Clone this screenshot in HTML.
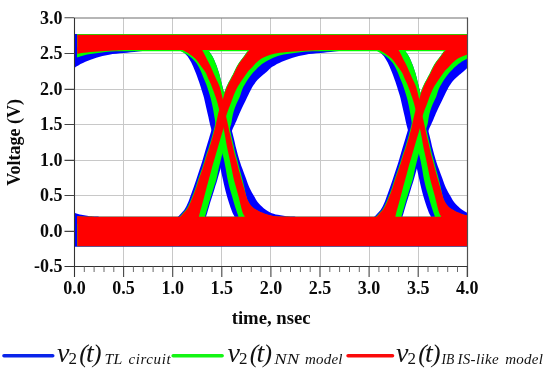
<!DOCTYPE html>
<html lang="en"><head><meta charset="utf-8"><title>Eye diagram</title>
<style>html,body{margin:0;padding:0;background:#fff}body{width:550px;height:376px;overflow:hidden}</style>
</head><body>
<svg width="550" height="376" viewBox="0 0 550 376" style="display:block">
<defs>
<clipPath id="clip-r"><rect x="77.3" y="18" width="389.8" height="249"/></clipPath>
<clipPath id="clip-g"><rect x="77.0" y="18" width="390.1" height="249"/></clipPath>
<clipPath id="clip-b"><rect x="75.0" y="18" width="392.1" height="249"/></clipPath>
</defs>
<rect width="550" height="376" fill="#fff"/>
<path d="M123.6 18.0V266.5M172.7 18.0V266.5M221.8 18.0V266.5M270.9 18.0V266.5M320.0 18.0V266.5M369.1 18.0V266.5M418.2 18.0V266.5M74.5 53.5H467.5M74.5 89.0H467.5M74.5 124.5H467.5M74.5 160.0H467.5M74.5 195.5H467.5M74.5 231.0H467.5" stroke="#c8c8c8" stroke-width="1" fill="none" shape-rendering="crispEdges"/>
<g clip-path="url(#clip-b)" fill="#0000ff"><path d="M60 34.1H480V50.6H60Z"/><path d="M60 216.8H480V246.8H60Z"/><path d="M-20.4 46.0C-19.7 46.7 -17.2 49.1 -15.9 50.2C-14.6 51.3 -13.9 51.4 -12.7 52.4C-11.5 53.4 -10.2 54.5 -8.9 56.2C-7.6 57.9 -6.4 60.1 -5.1 62.6C-3.8 65.2 -2.5 68.3 -1.2 71.5C0.1 74.7 1.6 78.9 2.6 81.8C3.6 84.7 4.1 86.3 4.9 89.0C5.8 91.7 6.9 95.0 7.7 98.2C8.5 101.4 9.2 104.9 9.9 108.0C10.6 111.1 11.4 114.3 12.0 117.0C12.6 119.7 13.0 121.8 13.5 124.0C14.0 126.2 14.4 127.3 15.1 130.0C15.8 132.7 16.8 136.7 17.6 140.0C18.4 143.3 19.2 146.7 20.0 150.0C20.8 153.3 21.5 156.9 22.2 160.0C22.9 163.1 23.4 165.1 24.1 168.4C24.8 171.7 25.9 176.7 26.6 180.0C27.3 183.3 27.8 185.3 28.4 188.0C29.1 190.7 29.7 193.2 30.5 196.0C31.3 198.8 32.3 202.2 33.3 205.0C34.2 207.8 35.4 211.0 36.2 213.0C37.0 215.0 37.7 215.2 38.3 217.0C38.9 218.8 39.4 222.8 39.6 224.0L101.6 224.0C101.3 222.9 101.5 218.5 99.6 217.2C97.7 215.9 93.1 216.6 90.1 216.2C87.1 215.8 84.1 215.4 81.4 214.8C78.7 214.2 75.7 213.2 73.8 212.4C71.9 211.6 71.2 210.9 70.1 210.2C69.0 209.5 68.4 209.3 67.0 208.0C65.6 206.7 63.2 204.6 61.6 202.6C60.0 200.6 59.0 198.4 57.6 196.0C56.2 193.6 54.5 191.0 53.2 188.1C51.9 185.2 50.8 181.7 49.6 178.5C48.4 175.3 47.2 172.0 46.1 169.0C45.0 166.0 44.1 163.8 43.1 160.4C42.0 157.0 40.7 151.9 39.8 148.5C38.9 145.1 38.5 143.0 37.8 140.0C37.1 137.0 36.3 134.0 35.5 130.7C34.7 127.4 34.0 123.8 33.1 120.0C32.2 116.2 31.0 112.6 30.1 108.0C29.2 103.4 28.3 96.4 27.5 92.4C26.7 88.4 26.2 87.2 25.4 84.0C24.6 80.8 23.6 76.3 22.6 73.0C21.6 69.7 20.7 67.0 19.6 64.2C18.5 61.4 17.2 58.5 16.0 56.2C14.8 54.0 13.3 52.2 12.3 50.7C11.3 49.2 10.5 47.6 10.1 47.0Z"/><path d="M57.2 46.5C56.4 47.1 54.0 48.5 52.5 50.0C51.0 51.5 49.7 53.6 48.3 55.5C46.9 57.4 45.2 59.4 43.9 61.3C42.6 63.2 41.4 65.1 40.3 67.1C39.2 69.0 38.4 70.9 37.4 73.0C36.3 75.1 35.0 77.7 34.0 79.5C33.0 81.3 32.4 82.4 31.6 84.0C30.8 85.6 30.0 87.5 29.3 89.2C28.6 90.9 28.0 92.3 27.5 94.0C27.0 95.7 26.7 97.5 26.1 99.2C25.5 101.0 25.4 101.0 24.1 104.5C22.8 108.0 19.6 115.8 18.1 120.0C16.6 124.2 16.0 126.9 15.1 130.0C14.2 133.1 13.5 135.5 12.6 138.5C11.7 141.5 10.8 144.3 9.7 148.0C8.6 151.7 7.2 156.7 6.1 160.4C5.0 164.1 4.0 166.8 3.0 170.0C2.0 173.2 0.9 176.5 -0.1 179.5C-1.1 182.5 -2.0 185.2 -3.0 188.0C-4.0 190.8 -5.1 193.8 -5.9 196.0C-6.7 198.2 -7.2 199.8 -7.9 201.5C-8.6 203.2 -9.2 204.6 -9.9 206.0C-10.6 207.4 -11.4 208.8 -12.2 210.0C-13.0 211.2 -14.1 212.1 -14.9 213.0C-15.7 213.9 -16.4 214.7 -17.0 215.3C-17.6 216.0 -17.6 216.0 -18.7 216.9C-19.8 217.8 -22.6 220.3 -23.4 221.0L8.6 224.0C8.8 222.8 9.2 218.8 9.6 217.0C10.0 215.2 10.2 215.0 10.8 213.0C11.4 211.0 12.2 207.8 13.1 205.0C13.9 202.2 15.0 198.8 15.9 196.0C16.8 193.2 17.6 190.7 18.4 188.0C19.2 185.3 20.0 183.3 20.9 180.0C21.9 176.7 23.1 171.7 24.1 168.4C25.0 165.1 25.7 163.1 26.6 160.0C27.5 156.9 28.6 153.3 29.6 150.0C30.6 146.7 31.6 143.2 32.6 140.0C33.6 136.8 34.6 133.4 35.6 130.7C36.6 128.0 37.7 126.0 38.6 124.0C39.5 122.0 40.0 120.9 40.9 118.8C41.8 116.7 42.9 113.9 44.0 111.5C45.1 109.1 46.3 106.7 47.4 104.3C48.6 101.9 49.7 99.5 50.9 97.0C52.2 94.5 53.8 91.1 54.9 89.0C56.0 86.9 56.5 86.0 57.6 84.5C58.6 83.0 59.9 81.3 61.2 79.8C62.5 78.3 64.1 77.0 65.6 75.7C67.1 74.4 68.3 73.5 70.1 72.0C71.9 70.5 73.7 68.3 76.3 66.6C78.8 64.9 82.1 63.2 85.4 61.7C88.7 60.2 92.3 58.9 96.3 57.7C100.2 56.5 104.5 55.5 109.1 54.7C113.6 53.9 118.8 53.6 123.6 53.1C128.4 52.6 132.8 52.2 138.1 51.6C143.4 51.0 152.7 49.9 155.6 49.5Z"/><path d="M176.0 46.0C176.8 46.7 179.2 49.1 180.5 50.2C181.8 51.3 182.5 51.4 183.7 52.4C184.9 53.4 186.2 54.5 187.5 56.2C188.8 57.9 190.0 60.1 191.3 62.6C192.6 65.2 193.9 68.3 195.2 71.5C196.5 74.7 198.0 78.9 199.0 81.8C200.0 84.7 200.5 86.3 201.3 89.0C202.2 91.7 203.3 95.0 204.1 98.2C204.9 101.4 205.6 104.9 206.3 108.0C207.0 111.1 207.8 114.3 208.4 117.0C209.0 119.7 209.4 121.8 209.9 124.0C210.4 126.2 210.8 127.3 211.5 130.0C212.2 132.7 213.2 136.7 214.0 140.0C214.8 143.3 215.6 146.7 216.4 150.0C217.2 153.3 217.9 156.9 218.6 160.0C219.3 163.1 219.8 165.1 220.5 168.4C221.2 171.7 222.3 176.7 223.0 180.0C223.7 183.3 224.2 185.3 224.8 188.0C225.5 190.7 226.1 193.2 226.9 196.0C227.7 198.8 228.8 202.2 229.7 205.0C230.6 207.8 231.8 211.0 232.6 213.0C233.4 215.0 234.1 215.2 234.7 217.0C235.3 218.8 235.8 222.8 236.0 224.0L298.0 224.0C297.7 222.9 297.9 218.5 296.0 217.2C294.1 215.9 289.5 216.6 286.5 216.2C283.5 215.8 280.5 215.4 277.8 214.8C275.1 214.2 272.1 213.2 270.2 212.4C268.3 211.6 267.6 210.9 266.5 210.2C265.4 209.5 264.8 209.3 263.4 208.0C262.0 206.7 259.6 204.6 258.0 202.6C256.4 200.6 255.4 198.4 254.0 196.0C252.6 193.6 250.9 191.0 249.6 188.1C248.3 185.2 247.2 181.7 246.0 178.5C244.8 175.3 243.6 172.0 242.5 169.0C241.4 166.0 240.6 163.8 239.5 160.4C238.4 157.0 237.1 151.9 236.2 148.5C235.3 145.1 234.9 143.0 234.2 140.0C233.5 137.0 232.7 134.0 231.9 130.7C231.1 127.4 230.4 123.8 229.5 120.0C228.6 116.2 227.4 112.6 226.5 108.0C225.6 103.4 224.7 96.4 223.9 92.4C223.1 88.4 222.6 87.2 221.8 84.0C221.0 80.8 220.0 76.3 219.0 73.0C218.0 69.7 217.1 67.0 216.0 64.2C214.9 61.4 213.6 58.5 212.4 56.2C211.2 54.0 209.7 52.2 208.7 50.7C207.7 49.2 206.9 47.6 206.5 47.0Z"/><path d="M253.6 46.5C252.8 47.1 250.4 48.5 248.9 50.0C247.4 51.5 246.1 53.6 244.7 55.5C243.3 57.4 241.6 59.4 240.3 61.3C239.0 63.2 237.8 65.1 236.7 67.1C235.6 69.0 234.8 70.9 233.8 73.0C232.8 75.1 231.4 77.7 230.4 79.5C229.4 81.3 228.8 82.4 228.0 84.0C227.2 85.6 226.4 87.5 225.7 89.2C225.0 90.9 224.4 92.3 223.9 94.0C223.4 95.7 223.1 97.5 222.5 99.2C221.9 101.0 221.8 101.0 220.5 104.5C219.2 108.0 216.0 115.8 214.5 120.0C213.0 124.2 212.4 126.9 211.5 130.0C210.6 133.1 209.9 135.5 209.0 138.5C208.1 141.5 207.2 144.3 206.1 148.0C205.0 151.7 203.6 156.7 202.5 160.4C201.4 164.1 200.4 166.8 199.4 170.0C198.4 173.2 197.3 176.5 196.3 179.5C195.3 182.5 194.4 185.2 193.4 188.0C192.4 190.8 191.3 193.8 190.5 196.0C189.7 198.2 189.2 199.8 188.5 201.5C187.8 203.2 187.2 204.6 186.5 206.0C185.8 207.4 185.0 208.8 184.2 210.0C183.4 211.2 182.3 212.1 181.5 213.0C180.7 213.9 180.0 214.7 179.4 215.3C178.8 216.0 178.8 216.0 177.7 216.9C176.6 217.8 173.8 220.3 173.0 221.0L205.0 224.0C205.2 222.8 205.6 218.8 206.0 217.0C206.4 215.2 206.6 215.0 207.2 213.0C207.8 211.0 208.7 207.8 209.5 205.0C210.3 202.2 211.4 198.8 212.3 196.0C213.2 193.2 214.0 190.7 214.8 188.0C215.6 185.3 216.4 183.3 217.3 180.0C218.2 176.7 219.6 171.7 220.5 168.4C221.4 165.1 222.1 163.1 223.0 160.0C223.9 156.9 225.0 153.3 226.0 150.0C227.0 146.7 228.0 143.2 229.0 140.0C230.0 136.8 231.0 133.4 232.0 130.7C233.0 128.0 234.1 126.0 235.0 124.0C235.9 122.0 236.4 120.9 237.3 118.8C238.2 116.7 239.3 113.9 240.4 111.5C241.5 109.1 242.7 106.7 243.8 104.3C245.0 101.9 246.1 99.5 247.3 97.0C248.6 94.5 250.2 91.1 251.3 89.0C252.4 86.9 252.9 86.0 254.0 84.5C255.1 83.0 256.3 81.3 257.6 79.8C258.9 78.3 260.5 77.0 262.0 75.7C263.5 74.4 264.7 73.5 266.5 72.0C268.3 70.5 270.1 68.3 272.7 66.6C275.2 64.9 278.5 63.2 281.8 61.7C285.1 60.2 288.8 58.9 292.7 57.7C296.6 56.5 300.9 55.5 305.5 54.7C310.1 53.9 315.2 53.6 320.0 53.1C324.8 52.6 329.2 52.2 334.5 51.6C339.8 51.0 349.1 49.9 352.0 49.5Z"/><path d="M372.4 46.0C373.1 46.7 375.6 49.1 376.9 50.2C378.2 51.3 378.9 51.4 380.1 52.4C381.3 53.4 382.6 54.5 383.9 56.2C385.2 57.9 386.4 60.1 387.7 62.6C389.0 65.2 390.3 68.3 391.6 71.5C392.9 74.7 394.4 78.9 395.4 81.8C396.4 84.7 396.9 86.3 397.7 89.0C398.6 91.7 399.7 95.0 400.5 98.2C401.3 101.4 402.0 104.9 402.7 108.0C403.4 111.1 404.2 114.3 404.8 117.0C405.4 119.7 405.8 121.8 406.3 124.0C406.8 126.2 407.2 127.3 407.9 130.0C408.6 132.7 409.6 136.7 410.4 140.0C411.2 143.3 412.0 146.7 412.8 150.0C413.6 153.3 414.3 156.9 415.0 160.0C415.7 163.1 416.2 165.1 416.9 168.4C417.6 171.7 418.7 176.7 419.4 180.0C420.1 183.3 420.6 185.3 421.2 188.0C421.9 190.7 422.5 193.2 423.3 196.0C424.1 198.8 425.2 202.2 426.1 205.0C427.1 207.8 428.2 211.0 429.0 213.0C429.8 215.0 430.5 215.2 431.1 217.0C431.7 218.8 432.2 222.8 432.4 224.0L494.4 224.0C494.1 222.9 494.3 218.5 492.4 217.2C490.5 215.9 485.9 216.6 482.9 216.2C479.9 215.8 476.9 215.4 474.2 214.8C471.5 214.2 468.5 213.2 466.6 212.4C464.7 211.6 464.0 210.9 462.9 210.2C461.8 209.5 461.2 209.3 459.8 208.0C458.4 206.7 456.0 204.6 454.4 202.6C452.8 200.6 451.8 198.4 450.4 196.0C449.0 193.6 447.3 191.0 446.0 188.1C444.7 185.2 443.6 181.7 442.4 178.5C441.2 175.3 440.0 172.0 438.9 169.0C437.8 166.0 436.9 163.8 435.9 160.4C434.8 157.0 433.5 151.9 432.6 148.5C431.7 145.1 431.3 143.0 430.6 140.0C429.9 137.0 429.1 134.0 428.3 130.7C427.5 127.4 426.8 123.8 425.9 120.0C425.0 116.2 423.8 112.6 422.9 108.0C422.0 103.4 421.1 96.4 420.3 92.4C419.5 88.4 419.0 87.2 418.2 84.0C417.4 80.8 416.4 76.3 415.4 73.0C414.4 69.7 413.5 67.0 412.4 64.2C411.3 61.4 410.0 58.5 408.8 56.2C407.6 54.0 406.1 52.2 405.1 50.7C404.1 49.2 403.3 47.6 402.9 47.0Z"/><path d="M450.0 46.5C449.2 47.1 446.8 48.5 445.3 50.0C443.8 51.5 442.5 53.6 441.1 55.5C439.7 57.4 438.0 59.4 436.7 61.3C435.4 63.2 434.2 65.1 433.1 67.1C432.0 69.0 431.2 70.9 430.2 73.0C429.1 75.1 427.8 77.7 426.8 79.5C425.8 81.3 425.2 82.4 424.4 84.0C423.6 85.6 422.8 87.5 422.1 89.2C421.4 90.9 420.8 92.3 420.3 94.0C419.8 95.7 419.5 97.5 418.9 99.2C418.3 101.0 418.2 101.0 416.9 104.5C415.6 108.0 412.4 115.8 410.9 120.0C409.4 124.2 408.8 126.9 407.9 130.0C407.0 133.1 406.3 135.5 405.4 138.5C404.5 141.5 403.6 144.3 402.5 148.0C401.4 151.7 400.0 156.7 398.9 160.4C397.8 164.1 396.8 166.8 395.8 170.0C394.8 173.2 393.7 176.5 392.7 179.5C391.7 182.5 390.8 185.2 389.8 188.0C388.8 190.8 387.7 193.8 386.9 196.0C386.1 198.2 385.6 199.8 384.9 201.5C384.2 203.2 383.6 204.6 382.9 206.0C382.2 207.4 381.4 208.8 380.6 210.0C379.8 211.2 378.7 212.1 377.9 213.0C377.1 213.9 376.4 214.7 375.8 215.3C375.2 216.0 375.2 216.0 374.1 216.9C373.0 217.8 370.2 220.3 369.4 221.0L401.4 224.0C401.6 222.8 402.0 218.8 402.4 217.0C402.8 215.2 403.0 215.0 403.6 213.0C404.2 211.0 405.0 207.8 405.9 205.0C406.8 202.2 407.8 198.8 408.7 196.0C409.6 193.2 410.4 190.7 411.2 188.0C412.0 185.3 412.8 183.3 413.7 180.0C414.7 176.7 415.9 171.7 416.9 168.4C417.8 165.1 418.5 163.1 419.4 160.0C420.3 156.9 421.4 153.3 422.4 150.0C423.4 146.7 424.4 143.2 425.4 140.0C426.4 136.8 427.4 133.4 428.4 130.7C429.4 128.0 430.5 126.0 431.4 124.0C432.3 122.0 432.8 120.9 433.7 118.8C434.6 116.7 435.7 113.9 436.8 111.5C437.9 109.1 439.1 106.7 440.2 104.3C441.4 101.9 442.5 99.5 443.7 97.0C445.0 94.5 446.6 91.1 447.7 89.0C448.8 86.9 449.3 86.0 450.4 84.5C451.4 83.0 452.7 81.3 454.0 79.8C455.3 78.3 456.9 77.0 458.4 75.7C459.9 74.4 461.1 73.5 462.9 72.0C464.7 70.5 466.6 68.3 469.1 66.6C471.7 64.9 474.9 63.2 478.2 61.7C481.5 60.2 485.2 58.9 489.1 57.7C493.1 56.5 497.3 55.5 501.9 54.7C506.4 53.9 511.6 53.6 516.4 53.1C521.2 52.6 525.6 52.2 530.9 51.6C536.2 51.0 545.5 49.9 548.4 49.5Z"/></g>
<g clip-path="url(#clip-g)" fill="#00ff00"><path d="M60 33.9H480V51.2H60Z"/><path d="M60 216.8H480V246.3H60Z"/><path d="M-20.4 49.5C-19.7 49.7 -17.7 50.2 -16.4 50.8C-15.1 51.3 -14.1 52.1 -12.8 52.8C-11.5 53.5 -10.2 54.2 -8.8 55.1C-7.4 56.0 -5.7 57.1 -4.2 58.4C-2.7 59.7 -1.2 61.3 0.0 62.9C1.2 64.5 2.0 66.2 2.9 67.9C3.8 69.6 4.4 71.2 5.2 73.0C6.0 74.8 6.8 77.2 7.6 79.0C8.3 80.8 9.0 82.3 9.7 84.0C10.3 85.7 10.8 87.0 11.5 89.2C12.2 91.4 13.2 94.5 13.9 97.0C14.6 99.5 15.1 101.7 15.6 104.0C16.1 106.3 16.6 108.7 17.0 111.0C17.4 113.3 17.8 115.8 18.2 118.0C18.6 120.2 18.7 121.3 19.2 124.0C19.7 126.7 20.5 130.7 21.2 134.0C21.9 137.3 22.6 140.7 23.4 144.0C24.2 147.3 25.3 151.1 26.0 153.8C26.7 156.5 27.1 157.6 27.6 160.0C28.1 162.4 28.6 164.8 29.2 168.0C29.8 171.2 30.5 176.2 31.2 179.5C31.9 182.8 32.5 185.2 33.2 188.0C33.9 190.8 34.8 193.2 35.6 196.0C36.4 198.8 37.3 202.2 38.2 205.0C39.1 207.8 40.1 211.0 40.8 213.0C41.5 215.0 41.7 215.2 42.2 217.0C42.7 218.8 43.4 222.8 43.6 224.0L97.6 224.0C97.3 222.9 97.5 218.6 95.6 217.4C93.7 216.2 89.2 217.2 86.1 217.0C83.0 216.8 79.9 216.8 77.1 216.3C74.3 215.9 71.1 214.9 69.2 214.3C67.3 213.7 66.8 213.4 65.6 212.9C64.4 212.4 63.6 212.1 62.0 211.2C60.4 210.3 57.7 209.1 56.0 207.6C54.3 206.1 53.0 203.9 52.0 202.0C51.0 200.1 50.4 198.3 49.8 196.0C49.1 193.7 48.7 190.8 48.1 188.1C47.5 185.4 47.0 183.2 46.2 180.0C45.4 176.8 44.1 172.3 43.2 169.0C42.3 165.7 41.6 162.5 40.9 160.0C40.2 157.5 39.9 156.7 39.2 154.0C38.5 151.3 37.7 147.3 36.9 144.0C36.1 140.7 35.3 137.3 34.6 134.0C33.8 130.7 33.0 127.0 32.4 124.0C31.8 121.0 31.6 119.0 31.2 116.3C30.8 113.6 30.5 110.8 30.1 108.0C29.7 105.2 29.3 101.8 28.9 99.2C28.5 96.6 27.9 94.1 27.5 92.4C27.1 90.7 26.9 90.6 26.6 89.2C26.2 87.8 25.8 85.7 25.4 84.0C25.0 82.3 24.7 80.8 24.2 79.0C23.7 77.2 23.4 75.5 22.6 73.0C21.8 70.5 20.7 67.0 19.6 64.2C18.5 61.4 17.2 58.5 16.0 56.2C14.8 54.0 13.3 52.2 12.3 50.7C11.3 49.2 10.5 47.6 10.1 47.0Z"/><path d="M56.9 46.5C56.1 47.1 53.7 48.5 52.2 50.0C50.7 51.5 49.4 53.6 48.0 55.5C46.6 57.4 44.9 59.4 43.6 61.3C42.3 63.2 41.1 65.1 40.0 67.1C38.9 69.0 38.1 70.9 37.1 73.0C36.0 75.1 34.7 77.7 33.7 79.5C32.7 81.3 32.1 82.4 31.3 84.0C30.5 85.6 29.7 87.5 29.0 89.2C28.3 90.9 27.7 92.3 27.2 94.0C26.7 95.7 26.4 97.5 25.8 99.2C25.2 101.0 24.4 102.8 23.8 104.5C23.2 106.2 22.7 107.6 22.1 109.7C21.5 111.8 20.9 114.6 20.3 117.0C19.8 119.4 19.3 121.7 18.8 124.0C18.3 126.3 17.7 128.5 17.1 131.0C16.4 133.5 15.7 136.2 14.9 139.0C14.1 141.8 13.0 145.5 12.2 148.0C11.4 150.5 10.8 151.9 10.1 154.0C9.4 156.1 8.9 157.7 8.1 160.4C7.2 163.1 6.1 166.8 5.0 170.0C3.9 173.2 2.7 176.5 1.7 179.5C0.7 182.5 -0.0 185.2 -1.0 188.0C-2.0 190.8 -3.1 193.8 -4.0 196.0C-4.9 198.2 -5.5 199.8 -6.2 201.5C-6.9 203.2 -7.5 204.6 -8.3 206.0C-9.0 207.4 -9.8 208.8 -10.7 210.0C-11.6 211.2 -12.7 212.1 -13.5 213.0C-14.3 213.9 -14.9 214.7 -15.5 215.3C-16.1 216.0 -16.0 216.0 -17.0 216.9C-18.0 217.8 -20.8 220.3 -21.5 221.0L7.6 224.0C7.8 222.8 8.2 218.8 8.6 217.0C8.9 215.2 9.1 215.0 9.7 213.0C10.3 211.0 11.2 207.8 12.0 205.0C12.8 202.2 13.8 198.8 14.7 196.0C15.6 193.2 16.3 190.7 17.2 188.0C18.0 185.3 18.9 183.3 19.8 180.0C20.7 176.7 21.6 171.3 22.4 168.0C23.2 164.7 23.8 162.4 24.4 160.0C25.0 157.6 25.2 156.8 26.0 153.8C26.8 150.8 28.0 145.6 29.0 142.0C30.0 138.4 31.2 135.0 32.2 132.0C33.2 129.0 34.2 126.3 34.8 124.0C35.4 121.7 35.4 120.2 35.8 118.0C36.2 115.8 36.7 113.3 37.4 111.0C38.1 108.7 39.0 106.3 40.0 104.0C41.0 101.7 42.3 99.5 43.3 97.0C44.3 94.5 45.1 91.1 46.0 89.0C46.9 86.9 47.5 86.1 48.4 84.5C49.3 82.9 50.3 81.2 51.4 79.5C52.5 77.8 53.8 76.1 55.1 74.5C56.4 72.9 58.0 71.2 59.2 70.0C60.4 68.8 60.8 68.2 62.1 67.0C63.4 65.8 64.8 64.4 67.2 62.9C69.6 61.4 73.0 59.3 76.3 57.9C79.6 56.5 83.0 55.3 87.2 54.4C91.5 53.5 96.9 53.0 101.8 52.4C106.6 51.8 111.3 51.3 116.3 51.0C121.3 50.7 125.4 50.9 131.6 50.6C137.8 50.4 149.9 49.7 153.6 49.5Z"/><path d="M176.0 49.5C176.7 49.7 178.7 50.2 180.0 50.8C181.3 51.3 182.3 52.1 183.6 52.8C184.9 53.5 186.2 54.2 187.6 55.1C189.0 56.0 190.7 57.1 192.2 58.4C193.7 59.7 195.2 61.3 196.4 62.9C197.6 64.5 198.4 66.2 199.3 67.9C200.2 69.6 200.8 71.2 201.6 73.0C202.4 74.8 203.2 77.2 204.0 79.0C204.8 80.8 205.4 82.3 206.1 84.0C206.8 85.7 207.2 87.0 207.9 89.2C208.6 91.4 209.6 94.5 210.3 97.0C211.0 99.5 211.5 101.7 212.0 104.0C212.5 106.3 213.0 108.7 213.4 111.0C213.8 113.3 214.2 115.8 214.6 118.0C215.0 120.2 215.1 121.3 215.6 124.0C216.1 126.7 216.9 130.7 217.6 134.0C218.3 137.3 219.0 140.7 219.8 144.0C220.6 147.3 221.7 151.1 222.4 153.8C223.1 156.5 223.5 157.6 224.0 160.0C224.5 162.4 225.0 164.8 225.6 168.0C226.2 171.2 226.9 176.2 227.6 179.5C228.3 182.8 228.9 185.2 229.6 188.0C230.3 190.8 231.2 193.2 232.0 196.0C232.8 198.8 233.7 202.2 234.6 205.0C235.5 207.8 236.5 211.0 237.2 213.0C237.9 215.0 238.1 215.2 238.6 217.0C239.1 218.8 239.8 222.8 240.0 224.0L294.0 224.0C293.7 222.9 293.9 218.6 292.0 217.4C290.1 216.2 285.6 217.2 282.5 217.0C279.4 216.8 276.3 216.8 273.5 216.3C270.7 215.9 267.5 214.9 265.6 214.3C263.7 213.7 263.2 213.4 262.0 212.9C260.8 212.4 260.0 212.1 258.4 211.2C256.8 210.3 254.1 209.1 252.4 207.6C250.7 206.1 249.4 203.9 248.4 202.0C247.4 200.1 246.8 198.3 246.2 196.0C245.5 193.7 245.1 190.8 244.5 188.1C243.9 185.4 243.4 183.2 242.6 180.0C241.8 176.8 240.5 172.3 239.6 169.0C238.7 165.7 238.0 162.5 237.3 160.0C236.6 157.5 236.3 156.7 235.6 154.0C234.9 151.3 234.1 147.3 233.3 144.0C232.5 140.7 231.8 137.3 231.0 134.0C230.2 130.7 229.4 127.0 228.8 124.0C228.2 121.0 228.0 119.0 227.6 116.3C227.2 113.6 226.9 110.8 226.5 108.0C226.1 105.2 225.7 101.8 225.3 99.2C224.9 96.6 224.3 94.1 223.9 92.4C223.5 90.7 223.3 90.6 223.0 89.2C222.7 87.8 222.2 85.7 221.8 84.0C221.4 82.3 221.1 80.8 220.6 79.0C220.1 77.2 219.8 75.5 219.0 73.0C218.2 70.5 217.1 67.0 216.0 64.2C214.9 61.4 213.6 58.5 212.4 56.2C211.2 54.0 209.7 52.2 208.7 50.7C207.7 49.2 206.9 47.6 206.5 47.0Z"/><path d="M253.3 46.5C252.5 47.1 250.1 48.5 248.6 50.0C247.1 51.5 245.8 53.6 244.4 55.5C243.0 57.4 241.3 59.4 240.0 61.3C238.7 63.2 237.5 65.1 236.4 67.1C235.3 69.0 234.6 70.9 233.5 73.0C232.4 75.1 231.1 77.7 230.1 79.5C229.1 81.3 228.5 82.4 227.7 84.0C226.9 85.6 226.1 87.5 225.4 89.2C224.7 90.9 224.1 92.3 223.6 94.0C223.1 95.7 222.8 97.5 222.2 99.2C221.6 101.0 220.8 102.8 220.2 104.5C219.6 106.2 219.1 107.6 218.5 109.7C217.9 111.8 217.2 114.6 216.7 117.0C216.2 119.4 215.7 121.7 215.2 124.0C214.7 126.3 214.2 128.5 213.5 131.0C212.8 133.5 212.1 136.2 211.3 139.0C210.5 141.8 209.4 145.5 208.6 148.0C207.8 150.5 207.2 151.9 206.5 154.0C205.8 156.1 205.3 157.7 204.5 160.4C203.7 163.1 202.5 166.8 201.4 170.0C200.3 173.2 199.1 176.5 198.1 179.5C197.1 182.5 196.4 185.2 195.4 188.0C194.4 190.8 193.3 193.8 192.4 196.0C191.5 198.2 190.9 199.8 190.2 201.5C189.5 203.2 188.9 204.6 188.1 206.0C187.4 207.4 186.6 208.8 185.7 210.0C184.8 211.2 183.7 212.1 182.9 213.0C182.1 213.9 181.5 214.7 180.9 215.3C180.3 216.0 180.4 216.0 179.4 216.9C178.4 217.8 175.7 220.3 174.9 221.0L204.0 224.0C204.2 222.8 204.7 218.8 205.0 217.0C205.3 215.2 205.5 215.0 206.1 213.0C206.7 211.0 207.6 207.8 208.4 205.0C209.2 202.2 210.2 198.8 211.1 196.0C212.0 193.2 212.8 190.7 213.6 188.0C214.4 185.3 215.3 183.3 216.2 180.0C217.1 176.7 218.0 171.3 218.8 168.0C219.6 164.7 220.2 162.4 220.8 160.0C221.4 157.6 221.6 156.8 222.4 153.8C223.2 150.8 224.4 145.6 225.4 142.0C226.4 138.4 227.6 135.0 228.6 132.0C229.6 129.0 230.6 126.3 231.2 124.0C231.8 121.7 231.8 120.2 232.2 118.0C232.6 115.8 233.1 113.3 233.8 111.0C234.5 108.7 235.4 106.3 236.4 104.0C237.4 101.7 238.7 99.5 239.7 97.0C240.7 94.5 241.6 91.1 242.4 89.0C243.2 86.9 243.9 86.1 244.8 84.5C245.7 82.9 246.7 81.2 247.8 79.5C248.9 77.8 250.2 76.1 251.5 74.5C252.8 72.9 254.4 71.2 255.6 70.0C256.8 68.8 257.2 68.2 258.5 67.0C259.8 65.8 261.2 64.4 263.6 62.9C266.0 61.4 269.4 59.3 272.7 57.9C276.0 56.5 279.4 55.3 283.6 54.4C287.9 53.5 293.4 53.0 298.2 52.4C303.0 51.8 307.7 51.3 312.7 51.0C317.7 50.7 321.8 50.9 328.0 50.6C334.2 50.4 346.3 49.7 350.0 49.5Z"/><path d="M372.4 49.5C373.1 49.7 375.1 50.2 376.4 50.8C377.7 51.3 378.7 52.1 380.0 52.8C381.3 53.5 382.6 54.2 384.0 55.1C385.4 56.0 387.1 57.1 388.6 58.4C390.1 59.7 391.6 61.3 392.8 62.9C394.0 64.5 394.8 66.2 395.7 67.9C396.6 69.6 397.2 71.2 398.0 73.0C398.8 74.8 399.6 77.2 400.4 79.0C401.1 80.8 401.9 82.3 402.5 84.0C403.1 85.7 403.6 87.0 404.3 89.2C405.0 91.4 406.0 94.5 406.7 97.0C407.4 99.5 407.9 101.7 408.4 104.0C408.9 106.3 409.4 108.7 409.8 111.0C410.2 113.3 410.6 115.8 411.0 118.0C411.4 120.2 411.5 121.3 412.0 124.0C412.5 126.7 413.3 130.7 414.0 134.0C414.7 137.3 415.4 140.7 416.2 144.0C417.0 147.3 418.1 151.1 418.8 153.8C419.5 156.5 419.9 157.6 420.4 160.0C420.9 162.4 421.4 164.8 422.0 168.0C422.6 171.2 423.3 176.2 424.0 179.5C424.7 182.8 425.3 185.2 426.0 188.0C426.7 190.8 427.6 193.2 428.4 196.0C429.2 198.8 430.1 202.2 431.0 205.0C431.9 207.8 432.9 211.0 433.6 213.0C434.3 215.0 434.5 215.2 435.0 217.0C435.5 218.8 436.2 222.8 436.4 224.0L490.4 224.0C490.1 222.9 490.3 218.6 488.4 217.4C486.5 216.2 482.0 217.2 478.9 217.0C475.8 216.8 472.7 216.8 469.9 216.3C467.1 215.9 463.9 214.9 462.0 214.3C460.1 213.7 459.6 213.4 458.4 212.9C457.2 212.4 456.4 212.1 454.8 211.2C453.2 210.3 450.5 209.1 448.8 207.6C447.1 206.1 445.8 203.9 444.8 202.0C443.8 200.1 443.2 198.3 442.6 196.0C442.0 193.7 441.5 190.8 440.9 188.1C440.3 185.4 439.8 183.2 439.0 180.0C438.2 176.8 436.9 172.3 436.0 169.0C435.1 165.7 434.4 162.5 433.7 160.0C433.0 157.5 432.7 156.7 432.0 154.0C431.3 151.3 430.5 147.3 429.7 144.0C428.9 140.7 428.1 137.3 427.4 134.0C426.6 130.7 425.8 127.0 425.2 124.0C424.6 121.0 424.4 119.0 424.0 116.3C423.6 113.6 423.3 110.8 422.9 108.0C422.5 105.2 422.1 101.8 421.7 99.2C421.3 96.6 420.7 94.1 420.3 92.4C419.9 90.7 419.8 90.6 419.4 89.2C419.0 87.8 418.6 85.7 418.2 84.0C417.8 82.3 417.5 80.8 417.0 79.0C416.5 77.2 416.2 75.5 415.4 73.0C414.6 70.5 413.5 67.0 412.4 64.2C411.3 61.4 410.0 58.5 408.8 56.2C407.6 54.0 406.1 52.2 405.1 50.7C404.1 49.2 403.3 47.6 402.9 47.0Z"/><path d="M449.7 46.5C448.9 47.1 446.5 48.5 445.0 50.0C443.5 51.5 442.2 53.6 440.8 55.5C439.4 57.4 437.7 59.4 436.4 61.3C435.1 63.2 433.9 65.1 432.8 67.1C431.7 69.0 430.9 70.9 429.9 73.0C428.8 75.1 427.5 77.7 426.5 79.5C425.5 81.3 424.9 82.4 424.1 84.0C423.3 85.6 422.5 87.5 421.8 89.2C421.1 90.9 420.5 92.3 420.0 94.0C419.5 95.7 419.2 97.5 418.6 99.2C418.0 101.0 417.2 102.8 416.6 104.5C416.0 106.2 415.5 107.6 414.9 109.7C414.3 111.8 413.7 114.6 413.1 117.0C412.6 119.4 412.1 121.7 411.6 124.0C411.1 126.3 410.5 128.5 409.9 131.0C409.2 133.5 408.5 136.2 407.7 139.0C406.9 141.8 405.8 145.5 405.0 148.0C404.2 150.5 403.6 151.9 402.9 154.0C402.2 156.1 401.8 157.7 400.9 160.4C400.0 163.1 398.9 166.8 397.8 170.0C396.7 173.2 395.5 176.5 394.5 179.5C393.5 182.5 392.8 185.2 391.8 188.0C390.9 190.8 389.7 193.8 388.8 196.0C387.9 198.2 387.3 199.8 386.6 201.5C385.9 203.2 385.2 204.6 384.5 206.0C383.8 207.4 383.0 208.8 382.1 210.0C381.2 211.2 380.1 212.1 379.3 213.0C378.5 213.9 377.9 214.7 377.3 215.3C376.7 216.0 376.8 216.0 375.8 216.9C374.8 217.8 372.1 220.3 371.3 221.0L400.4 224.0C400.6 222.8 401.0 218.8 401.4 217.0C401.8 215.2 401.9 215.0 402.5 213.0C403.1 211.0 404.0 207.8 404.8 205.0C405.6 202.2 406.6 198.8 407.5 196.0C408.4 193.2 409.1 190.7 410.0 188.0C410.9 185.3 411.7 183.3 412.6 180.0C413.5 176.7 414.4 171.3 415.2 168.0C416.0 164.7 416.6 162.4 417.2 160.0C417.8 157.6 418.0 156.8 418.8 153.8C419.6 150.8 420.8 145.6 421.8 142.0C422.8 138.4 424.0 135.0 425.0 132.0C426.0 129.0 427.0 126.3 427.6 124.0C428.2 121.7 428.2 120.2 428.6 118.0C429.0 115.8 429.5 113.3 430.2 111.0C430.9 108.7 431.8 106.3 432.8 104.0C433.8 101.7 435.1 99.5 436.1 97.0C437.1 94.5 437.9 91.1 438.8 89.0C439.7 86.9 440.3 86.1 441.2 84.5C442.1 82.9 443.1 81.2 444.2 79.5C445.3 77.8 446.6 76.1 447.9 74.5C449.2 72.9 450.8 71.2 452.0 70.0C453.2 68.8 453.6 68.2 454.9 67.0C456.2 65.8 457.6 64.4 460.0 62.9C462.4 61.4 465.8 59.3 469.1 57.9C472.4 56.5 475.8 55.3 480.0 54.4C484.2 53.5 489.8 53.0 494.6 52.4C499.5 51.8 504.1 51.3 509.1 51.0C514.1 50.7 518.2 50.9 524.4 50.6C530.6 50.4 542.7 49.7 546.4 49.5Z"/></g>
<g clip-path="url(#clip-r)" fill="#ff0000"><path d="M60 34.8H480V50.0H60Z"/><path d="M60 216.8H480V246.3H60Z"/><path d="M-18.4 48.5C-17.9 48.6 -16.4 48.9 -15.4 49.3C-14.4 49.7 -13.8 50.0 -12.4 50.8C-11.0 51.6 -8.8 52.8 -7.0 54.0C-5.2 55.2 -3.3 56.6 -1.8 58.0C-0.3 59.4 0.7 60.7 2.0 62.4C3.3 64.1 4.8 66.2 6.0 68.0C7.2 69.8 8.5 71.2 9.5 73.0C10.5 74.8 11.2 77.2 12.0 79.0C12.8 80.8 13.7 82.3 14.4 84.0C15.1 85.7 15.6 87.0 16.4 89.2C17.2 91.4 18.4 94.6 19.2 97.0C20.0 99.4 20.6 101.4 21.2 103.5C21.8 105.6 22.1 107.1 22.8 109.7C23.4 112.3 24.4 115.9 25.1 119.0C25.8 122.1 26.4 125.0 27.1 128.2C27.7 131.4 28.4 134.7 29.0 138.0C29.6 141.3 30.1 144.7 30.8 148.0C31.5 151.3 32.3 154.7 33.0 158.0C33.7 161.3 34.3 164.3 35.1 168.0C35.9 171.7 36.8 176.7 37.6 180.0C38.4 183.3 39.1 185.3 39.8 188.0C40.5 190.7 41.3 193.2 42.0 196.0C42.7 198.8 43.5 202.2 44.2 205.0C44.9 207.8 45.7 211.0 46.4 213.0C47.1 215.0 48.0 215.2 48.5 217.0C49.0 218.8 49.4 222.8 49.6 224.0L97.6 224.0C97.3 222.9 97.5 218.5 95.6 217.3C93.7 216.1 89.2 217.0 86.1 216.8C83.0 216.6 79.9 216.5 77.1 216.0C74.3 215.5 71.3 214.6 69.4 214.0C67.5 213.4 67.0 213.1 65.8 212.6C64.6 212.1 63.8 211.8 62.2 210.9C60.6 210.0 57.9 208.8 56.3 207.3C54.6 205.8 53.4 203.9 52.3 202.0C51.2 200.1 50.7 198.3 49.9 196.0C49.1 193.7 48.4 190.8 47.6 188.1C46.8 185.4 46.2 183.2 45.3 180.0C44.4 176.8 43.1 172.3 42.2 169.0C41.3 165.7 40.6 162.5 39.9 160.0C39.2 157.5 38.9 156.7 38.2 154.0C37.5 151.3 36.7 147.3 35.9 144.0C35.1 140.7 34.3 137.3 33.6 134.0C32.8 130.7 32.1 127.0 31.4 124.0C30.8 121.0 30.2 119.0 29.7 116.3C29.1 113.6 28.6 110.8 28.1 108.0C27.5 105.2 27.1 102.3 26.4 99.2C25.7 96.1 24.7 91.7 24.0 89.2C23.3 86.7 22.9 85.7 22.2 84.0C21.5 82.3 20.6 80.8 19.8 79.0C18.9 77.2 18.0 75.0 17.1 73.0C16.2 71.0 15.4 69.0 14.5 67.1C13.6 65.1 12.6 63.2 11.6 61.3C10.6 59.4 9.7 57.4 8.7 55.5C7.7 53.6 6.6 51.4 5.8 50.0C4.9 48.6 4.0 47.5 3.6 47.0Z"/><path d="M57.6 46.5C56.8 47.1 54.4 48.5 52.9 50.0C51.4 51.5 50.1 53.6 48.7 55.5C47.3 57.4 45.6 59.4 44.3 61.3C43.0 63.2 41.8 65.1 40.7 67.1C39.6 69.0 38.8 70.9 37.8 73.0C36.7 75.1 35.4 77.7 34.4 79.5C33.4 81.3 32.8 82.4 32.0 84.0C31.2 85.6 30.4 87.5 29.7 89.2C29.0 90.9 28.4 92.3 27.9 94.0C27.4 95.7 27.1 97.5 26.5 99.2C25.9 101.0 25.1 102.8 24.5 104.5C23.9 106.2 23.4 107.6 22.8 109.7C22.2 111.8 21.5 114.6 21.0 117.0C20.5 119.4 20.0 121.7 19.5 124.0C19.0 126.3 18.4 128.5 17.8 131.0C17.1 133.5 16.4 136.2 15.6 139.0C14.8 141.8 13.7 145.5 12.9 148.0C12.1 150.5 11.5 151.9 10.8 154.0C10.1 156.1 9.6 157.7 8.8 160.4C7.9 163.1 6.8 166.8 5.7 170.0C4.6 173.2 3.4 176.5 2.4 179.5C1.4 182.5 0.6 185.2 -0.3 188.0C-1.3 190.8 -2.4 193.8 -3.3 196.0C-4.2 198.2 -4.8 199.8 -5.5 201.5C-6.2 203.2 -6.8 204.6 -7.6 206.0C-8.3 207.4 -9.1 208.8 -10.0 210.0C-10.9 211.2 -12.0 212.1 -12.8 213.0C-13.6 213.9 -14.2 214.7 -14.8 215.3C-15.4 216.0 -15.3 216.0 -16.3 216.9C-17.3 217.8 -20.1 220.3 -20.8 221.0L1.1 224.0C1.3 222.8 2.1 218.8 2.5 217.0C2.9 215.2 2.9 215.0 3.4 213.0C3.9 211.0 4.8 207.8 5.6 205.0C6.4 202.2 7.2 198.8 8.0 196.0C8.8 193.2 9.4 190.7 10.1 188.0C10.8 185.3 11.4 183.3 12.3 180.0C13.2 176.7 14.5 171.7 15.5 168.0C16.5 164.3 17.4 161.3 18.4 158.0C19.4 154.7 20.3 151.3 21.3 148.0C22.3 144.7 23.2 141.3 24.2 138.0C25.2 134.7 26.2 131.8 27.1 128.2C28.0 124.6 28.7 119.9 29.7 116.3C30.7 112.7 32.0 109.7 33.2 106.5C34.4 103.3 35.5 99.9 36.7 97.0C37.8 94.1 39.1 91.1 40.1 89.0C41.1 86.9 41.7 86.1 42.7 84.5C43.7 82.9 44.9 81.2 46.0 79.5C47.1 77.8 48.4 76.0 49.5 74.5C50.6 73.0 51.5 71.5 52.6 70.3C53.7 69.0 54.8 68.3 56.0 67.0C57.2 65.7 58.5 64.1 60.1 62.6C61.7 61.1 63.5 59.4 65.6 58.2C67.7 57.0 69.7 56.1 72.7 55.2C75.7 54.3 79.4 53.4 83.6 52.8C87.8 52.2 93.1 51.9 98.1 51.5C103.1 51.1 107.7 50.9 113.6 50.6C119.5 50.3 130.3 49.7 133.6 49.5Z"/><path d="M178.0 48.5C178.5 48.6 180.0 48.9 181.0 49.3C182.0 49.7 182.6 50.0 184.0 50.8C185.4 51.6 187.6 52.8 189.4 54.0C191.2 55.2 193.1 56.6 194.6 58.0C196.1 59.4 197.1 60.7 198.4 62.4C199.7 64.1 201.2 66.2 202.4 68.0C203.7 69.8 204.9 71.2 205.9 73.0C206.9 74.8 207.6 77.2 208.4 79.0C209.2 80.8 210.1 82.3 210.8 84.0C211.5 85.7 212.0 87.0 212.8 89.2C213.6 91.4 214.8 94.6 215.6 97.0C216.4 99.4 217.0 101.4 217.6 103.5C218.2 105.6 218.5 107.1 219.2 109.7C219.8 112.3 220.8 115.9 221.5 119.0C222.2 122.1 222.8 125.0 223.5 128.2C224.2 131.4 224.8 134.7 225.4 138.0C226.0 141.3 226.5 144.7 227.2 148.0C227.9 151.3 228.7 154.7 229.4 158.0C230.1 161.3 230.7 164.3 231.5 168.0C232.3 171.7 233.2 176.7 234.0 180.0C234.8 183.3 235.5 185.3 236.2 188.0C236.9 190.7 237.7 193.2 238.4 196.0C239.1 198.8 239.9 202.2 240.6 205.0C241.3 207.8 242.1 211.0 242.8 213.0C243.5 215.0 244.4 215.2 244.9 217.0C245.4 218.8 245.8 222.8 246.0 224.0L294.0 224.0C293.7 222.9 293.9 218.5 292.0 217.3C290.1 216.1 285.6 217.0 282.5 216.8C279.4 216.6 276.3 216.5 273.5 216.0C270.7 215.5 267.7 214.6 265.8 214.0C263.9 213.4 263.4 213.1 262.2 212.6C261.0 212.1 260.2 211.8 258.6 210.9C257.0 210.0 254.3 208.8 252.7 207.3C251.0 205.8 249.8 203.9 248.7 202.0C247.6 200.1 247.1 198.3 246.3 196.0C245.5 193.7 244.8 190.8 244.0 188.1C243.2 185.4 242.6 183.2 241.7 180.0C240.8 176.8 239.5 172.3 238.6 169.0C237.7 165.7 237.0 162.5 236.3 160.0C235.6 157.5 235.3 156.7 234.6 154.0C233.9 151.3 233.1 147.3 232.3 144.0C231.5 140.7 230.8 137.3 230.0 134.0C229.2 130.7 228.5 127.0 227.8 124.0C227.2 121.0 226.7 119.0 226.1 116.3C225.5 113.6 225.1 110.8 224.5 108.0C223.9 105.2 223.5 102.3 222.8 99.2C222.1 96.1 221.1 91.7 220.4 89.2C219.7 86.7 219.3 85.7 218.6 84.0C217.9 82.3 217.0 80.8 216.2 79.0C215.3 77.2 214.4 75.0 213.5 73.0C212.6 71.0 211.8 69.0 210.9 67.1C210.0 65.1 209.0 63.2 208.0 61.3C207.0 59.4 206.1 57.4 205.1 55.5C204.1 53.6 203.0 51.4 202.2 50.0C201.3 48.6 200.4 47.5 200.0 47.0Z"/><path d="M254.0 46.5C253.2 47.1 250.8 48.5 249.3 50.0C247.8 51.5 246.5 53.6 245.1 55.5C243.7 57.4 242.0 59.4 240.7 61.3C239.4 63.2 238.2 65.1 237.1 67.1C236.0 69.0 235.2 70.9 234.2 73.0C233.1 75.1 231.8 77.7 230.8 79.5C229.8 81.3 229.2 82.4 228.4 84.0C227.6 85.6 226.8 87.5 226.1 89.2C225.4 90.9 224.8 92.3 224.3 94.0C223.8 95.7 223.5 97.5 222.9 99.2C222.3 101.0 221.5 102.8 220.9 104.5C220.3 106.2 219.8 107.6 219.2 109.7C218.6 111.8 217.9 114.6 217.4 117.0C216.9 119.4 216.4 121.7 215.9 124.0C215.4 126.3 214.8 128.5 214.2 131.0C213.5 133.5 212.8 136.2 212.0 139.0C211.2 141.8 210.1 145.5 209.3 148.0C208.5 150.5 207.9 151.9 207.2 154.0C206.5 156.1 206.0 157.7 205.2 160.4C204.3 163.1 203.2 166.8 202.1 170.0C201.0 173.2 199.8 176.5 198.8 179.5C197.8 182.5 197.1 185.2 196.1 188.0C195.1 190.8 194.0 193.8 193.1 196.0C192.2 198.2 191.6 199.8 190.9 201.5C190.2 203.2 189.6 204.6 188.8 206.0C188.1 207.4 187.3 208.8 186.4 210.0C185.5 211.2 184.4 212.1 183.6 213.0C182.8 213.9 182.2 214.7 181.6 215.3C181.0 216.0 181.1 216.0 180.1 216.9C179.1 217.8 176.3 220.3 175.6 221.0L197.5 224.0C197.7 222.8 198.5 218.8 198.9 217.0C199.3 215.2 199.3 215.0 199.8 213.0C200.3 211.0 201.2 207.8 202.0 205.0C202.8 202.2 203.7 198.8 204.4 196.0C205.2 193.2 205.8 190.7 206.5 188.0C207.2 185.3 207.8 183.3 208.7 180.0C209.6 176.7 210.9 171.7 211.9 168.0C212.9 164.3 213.8 161.3 214.8 158.0C215.8 154.7 216.7 151.3 217.7 148.0C218.7 144.7 219.6 141.3 220.6 138.0C221.6 134.7 222.6 131.8 223.5 128.2C224.4 124.6 225.1 119.9 226.1 116.3C227.1 112.7 228.4 109.7 229.6 106.5C230.8 103.3 231.9 99.9 233.1 97.0C234.2 94.1 235.5 91.1 236.5 89.0C237.5 86.9 238.1 86.1 239.1 84.5C240.1 82.9 241.3 81.2 242.4 79.5C243.5 77.8 244.8 76.0 245.9 74.5C247.0 73.0 247.9 71.5 249.0 70.3C250.1 69.0 251.2 68.3 252.4 67.0C253.7 65.7 254.9 64.1 256.5 62.6C258.1 61.1 259.9 59.4 262.0 58.2C264.1 57.0 266.1 56.1 269.1 55.2C272.1 54.3 275.8 53.4 280.0 52.8C284.2 52.2 289.5 51.9 294.5 51.5C299.5 51.1 304.1 50.9 310.0 50.6C315.9 50.3 326.7 49.7 330.0 49.5Z"/><path d="M374.4 48.5C374.9 48.6 376.4 48.9 377.4 49.3C378.4 49.7 379.0 50.0 380.4 50.8C381.8 51.6 384.0 52.8 385.8 54.0C387.6 55.2 389.5 56.6 391.0 58.0C392.5 59.4 393.5 60.7 394.8 62.4C396.1 64.1 397.6 66.2 398.8 68.0C400.1 69.8 401.3 71.2 402.3 73.0C403.3 74.8 404.0 77.2 404.8 79.0C405.6 80.8 406.5 82.3 407.2 84.0C407.9 85.7 408.4 87.0 409.2 89.2C410.0 91.4 411.2 94.6 412.0 97.0C412.8 99.4 413.4 101.4 414.0 103.5C414.6 105.6 415.0 107.1 415.6 109.7C416.2 112.3 417.2 115.9 417.9 119.0C418.6 122.1 419.2 125.0 419.9 128.2C420.5 131.4 421.2 134.7 421.8 138.0C422.4 141.3 422.9 144.7 423.6 148.0C424.3 151.3 425.1 154.7 425.8 158.0C426.5 161.3 427.1 164.3 427.9 168.0C428.7 171.7 429.6 176.7 430.4 180.0C431.2 183.3 431.9 185.3 432.6 188.0C433.3 190.7 434.1 193.2 434.8 196.0C435.5 198.8 436.3 202.2 437.0 205.0C437.7 207.8 438.5 211.0 439.2 213.0C439.9 215.0 440.8 215.2 441.3 217.0C441.8 218.8 442.2 222.8 442.4 224.0L490.4 224.0C490.1 222.9 490.3 218.5 488.4 217.3C486.5 216.1 482.0 217.0 478.9 216.8C475.8 216.6 472.7 216.5 469.9 216.0C467.1 215.5 464.1 214.6 462.2 214.0C460.3 213.4 459.8 213.1 458.6 212.6C457.4 212.1 456.6 211.8 455.0 210.9C453.4 210.0 450.8 208.8 449.1 207.3C447.5 205.8 446.2 203.9 445.1 202.0C444.0 200.1 443.5 198.3 442.7 196.0C441.9 193.7 441.2 190.8 440.4 188.1C439.6 185.4 439.0 183.2 438.1 180.0C437.2 176.8 435.9 172.3 435.0 169.0C434.1 165.7 433.4 162.5 432.7 160.0C432.0 157.5 431.7 156.7 431.0 154.0C430.3 151.3 429.5 147.3 428.7 144.0C427.9 140.7 427.1 137.3 426.4 134.0C425.6 130.7 424.9 127.0 424.2 124.0C423.6 121.0 423.1 119.0 422.5 116.3C421.9 113.6 421.4 110.8 420.9 108.0C420.3 105.2 419.9 102.3 419.2 99.2C418.5 96.1 417.5 91.7 416.8 89.2C416.1 86.7 415.7 85.7 415.0 84.0C414.3 82.3 413.5 80.8 412.6 79.0C411.8 77.2 410.8 75.0 409.9 73.0C409.0 71.0 408.2 69.0 407.3 67.1C406.4 65.1 405.4 63.2 404.4 61.3C403.4 59.4 402.5 57.4 401.5 55.5C400.5 53.6 399.5 51.4 398.6 50.0C397.8 48.6 396.8 47.5 396.4 47.0Z"/><path d="M450.4 46.5C449.6 47.1 447.2 48.5 445.7 50.0C444.2 51.5 442.9 53.6 441.5 55.5C440.1 57.4 438.4 59.4 437.1 61.3C435.8 63.2 434.6 65.1 433.5 67.1C432.4 69.0 431.7 70.9 430.6 73.0C429.6 75.1 428.2 77.7 427.2 79.5C426.2 81.3 425.6 82.4 424.8 84.0C424.0 85.6 423.2 87.5 422.5 89.2C421.8 90.9 421.2 92.3 420.7 94.0C420.2 95.7 419.9 97.5 419.3 99.2C418.7 101.0 417.9 102.8 417.3 104.5C416.7 106.2 416.2 107.6 415.6 109.7C415.0 111.8 414.4 114.6 413.8 117.0C413.2 119.4 412.8 121.7 412.3 124.0C411.8 126.3 411.2 128.5 410.6 131.0C410.0 133.5 409.2 136.2 408.4 139.0C407.6 141.8 406.5 145.5 405.7 148.0C404.9 150.5 404.3 151.9 403.6 154.0C402.9 156.1 402.5 157.7 401.6 160.4C400.8 163.1 399.6 166.8 398.5 170.0C397.4 173.2 396.2 176.5 395.2 179.5C394.2 182.5 393.4 185.2 392.5 188.0C391.6 190.8 390.4 193.8 389.5 196.0C388.6 198.2 388.0 199.8 387.3 201.5C386.6 203.2 386.0 204.6 385.2 206.0C384.5 207.4 383.7 208.8 382.8 210.0C381.9 211.2 380.8 212.1 380.0 213.0C379.2 213.9 378.6 214.7 378.0 215.3C377.4 216.0 377.5 216.0 376.5 216.9C375.5 217.8 372.8 220.3 372.0 221.0L393.9 224.0C394.1 222.8 394.9 218.8 395.3 217.0C395.7 215.2 395.7 215.0 396.2 213.0C396.7 211.0 397.6 207.8 398.4 205.0C399.2 202.2 400.1 198.8 400.8 196.0C401.6 193.2 402.2 190.7 402.9 188.0C403.6 185.3 404.2 183.3 405.1 180.0C406.0 176.7 407.3 171.7 408.3 168.0C409.3 164.3 410.2 161.3 411.2 158.0C412.2 154.7 413.1 151.3 414.1 148.0C415.1 144.7 416.0 141.3 417.0 138.0C418.0 134.7 419.0 131.8 419.9 128.2C420.8 124.6 421.5 119.9 422.5 116.3C423.5 112.7 424.8 109.7 426.0 106.5C427.2 103.3 428.4 99.9 429.5 97.0C430.6 94.1 431.9 91.1 432.9 89.0C433.9 86.9 434.5 86.1 435.5 84.5C436.5 82.9 437.7 81.2 438.8 79.5C439.9 77.8 441.2 76.0 442.3 74.5C443.4 73.0 444.3 71.5 445.4 70.3C446.5 69.0 447.6 68.3 448.8 67.0C450.1 65.7 451.3 64.1 452.9 62.6C454.5 61.1 456.3 59.4 458.4 58.2C460.5 57.0 462.5 56.1 465.5 55.2C468.5 54.3 472.2 53.4 476.4 52.8C480.6 52.2 485.9 51.9 490.9 51.5C495.9 51.1 500.5 50.9 506.4 50.6C512.3 50.3 523.1 49.7 526.4 49.5Z"/></g>
<path d="M74.5 18.0H467.5" stroke="#6e6e6e" stroke-width="1.2" fill="none"/>
<path d="M467.5 17.5V277.0" stroke="#505050" stroke-width="1.2" fill="none"/>
<path d="M74.5 18.0V277.0M64.5 266.5H467.5" stroke="#333" stroke-width="1.1" fill="none"/>
<path d="M64.50 17.80H74.5M64.50 53.50H74.5M64.50 89.35H74.5M64.50 124.50H74.5M64.50 160.35H74.5M64.50 195.50H74.5M64.50 231.35H74.5M123.6 266.5V277.0M172.7 266.5V277.0M221.8 266.5V277.0M270.9 266.5V277.0M320.0 266.5V277.0M369.1 266.5V277.0M418.2 266.5V277.0M467.3 266.5V277.0" stroke="#444" stroke-width="1.1" fill="none"/>
<path d="M84.3 266.5V272.0M94.1 266.5V272.0M104.0 266.5V272.0M113.8 266.5V272.0M133.4 266.5V272.0M143.2 266.5V272.0M153.1 266.5V272.0M162.9 266.5V272.0M182.5 266.5V272.0M192.3 266.5V272.0M202.2 266.5V272.0M212.0 266.5V272.0M231.6 266.5V272.0M241.4 266.5V272.0M251.3 266.5V272.0M261.1 266.5V272.0M280.7 266.5V272.0M290.5 266.5V272.0M300.4 266.5V272.0M310.2 266.5V272.0M329.8 266.5V272.0M339.6 266.5V272.0M349.5 266.5V272.0M359.3 266.5V272.0M378.9 266.5V272.0M388.7 266.5V272.0M398.6 266.5V272.0M408.4 266.5V272.0M428.0 266.5V272.0M437.8 266.5V272.0M447.7 266.5V272.0M457.5 266.5V272.0" stroke="#6a6a6a" stroke-width="1" fill="none"/>
<g font-family="'Liberation Serif', serif" font-weight="bold" font-size="18px" fill="#0a0a0a">
<text x="62.6" y="23.8" text-anchor="end">3.0</text>
<text x="62.6" y="59.3" text-anchor="end">2.5</text>
<text x="62.6" y="94.8" text-anchor="end">2.0</text>
<text x="62.6" y="130.3" text-anchor="end">1.5</text>
<text x="62.6" y="165.8" text-anchor="end">1.0</text>
<text x="62.6" y="201.3" text-anchor="end">0.5</text>
<text x="62.6" y="236.8" text-anchor="end">0.0</text>
<text x="62.6" y="272.3" text-anchor="end">-0.5</text>
<text x="74.5" y="294.3" text-anchor="middle">0.0</text>
<text x="123.6" y="294.3" text-anchor="middle">0.5</text>
<text x="172.7" y="294.3" text-anchor="middle">1.0</text>
<text x="221.8" y="294.3" text-anchor="middle">1.5</text>
<text x="270.9" y="294.3" text-anchor="middle">2.0</text>
<text x="320.0" y="294.3" text-anchor="middle">2.5</text>
<text x="369.1" y="294.3" text-anchor="middle">3.0</text>
<text x="418.2" y="294.3" text-anchor="middle">3.5</text>
<text x="467.3" y="294.3" text-anchor="middle">4.0</text>
<text x="271.2" y="324.3" text-anchor="middle" textLength="79" lengthAdjust="spacingAndGlyphs">time, nsec</text>
<text transform="translate(19.7,142.4) rotate(-90)" text-anchor="middle" textLength="86.8" lengthAdjust="spacingAndGlyphs">Voltage (V)</text>
</g>
<g font-family="'Liberation Serif', serif" font-style="italic" fill="#111">
<path d="M4.0 355.8H52.7" stroke="#0a24ea" stroke-width="3.6" stroke-linecap="round" fill="none"/>
<text x="57.0" y="362.2" font-size="28px">v</text>
<text x="68.6" y="363.8" font-size="17px" font-style="normal">2</text>
<text x="79.3" y="361.8" font-size="25.5px">(</text>
<text x="86.0" y="362.2" font-size="28px">t</text>
<text x="93.0" y="361.8" font-size="25.5px">)</text>
<text y="363.9" font-size="15px" xml:space="preserve" style="white-space:pre"><tspan x="104.6" textLength="17.6" lengthAdjust="spacingAndGlyphs">TL</tspan><tspan x="124.2" textLength="46.4" lengthAdjust="spacing"> circuit</tspan></text>
<path d="M173.2 355.8H222.1" stroke="#14f514" stroke-width="3.6" stroke-linecap="round" fill="none"/>
<text x="227.4" y="362.2" font-size="28px">v</text>
<text x="239.0" y="363.8" font-size="17px" font-style="normal">2</text>
<text x="249.7" y="361.8" font-size="25.5px">(</text>
<text x="256.4" y="362.2" font-size="28px">t</text>
<text x="263.4" y="361.8" font-size="25.5px">)</text>
<text y="363.9" font-size="15px" xml:space="preserve" style="white-space:pre"><tspan x="274.2" textLength="25.0" lengthAdjust="spacingAndGlyphs">NN</tspan><tspan x="301.2" textLength="41.2" lengthAdjust="spacing"> model</tspan></text>
<path d="M348.1 355.8H392.5" stroke="#fa0a0a" stroke-width="3.6" stroke-linecap="round" fill="none"/>
<text x="396.0" y="362.2" font-size="28px">v</text>
<text x="407.6" y="363.8" font-size="17px" font-style="normal">2</text>
<text x="418.3" y="361.8" font-size="25.5px">(</text>
<text x="425.0" y="362.2" font-size="28px">t</text>
<text x="432.0" y="361.8" font-size="25.5px">)</text>
<text y="363.9" font-size="15px" xml:space="preserve" style="white-space:pre"><tspan x="441.5" textLength="12.8" lengthAdjust="spacingAndGlyphs">IB</tspan><tspan x="457.4" textLength="41.2" lengthAdjust="spacing">IS-like</tspan><tspan x="501.3" textLength="41.6" lengthAdjust="spacing"> model</tspan></text>
</g>
</svg>
</body></html>
